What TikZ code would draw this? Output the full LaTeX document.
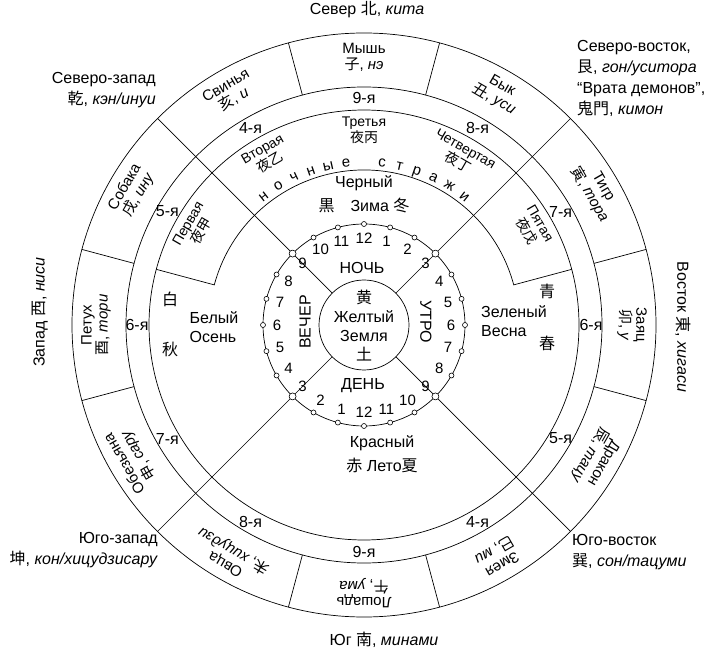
\documentclass[tikz,border=0pt]{standalone}
\usepackage{fontspec}
\setmainfont{Liberation Sans}
\newfontfamily\jpfont{Noto Sans CJK JP}
\newcommand\kj[1]{{\jpfont #1}}
\tikzset{
 ln/.style={line width=0.7pt},
 zod/.style={font=\fontsize{15}{16}\selectfont, align=center, inner sep=0pt},
 num/.style={font=\fontsize{16}{17}\selectfont, inner sep=0pt},
 watch/.style={font=\fontsize{14}{16}\selectfont, align=center, inner sep=0pt},
 cmp/.style={font=\fontsize{16}{21}\selectfont, inner sep=0pt},
 big/.style={font=\fontsize{16}{19}\selectfont, inner sep=0pt},
 hr/.style={font=\fontsize{15}{15}\selectfont, inner sep=0pt},
 dot/.style={circle, draw, fill=white, line width=0.6pt, minimum size=5pt, inner sep=0pt},
 bdot/.style={dot, minimum size=7pt}
}
\begin{document}
\begin{tikzpicture}[x=1pt,y=1pt]
\useasboundingbox (0,0) rectangle (723,654);
\fill[white] (0,0) rectangle (723,654);
\begin{scope}[shift={(364,329)}]
 \coordinate (c) at (0,0);
 \draw[ln] (c) circle (292pt);
 \draw[ln] (c) circle (238pt);
 \draw[ln] (c) circle (215pt);
 \draw[ln] (15:215pt) -- (15:155pt) arc (15:165:155pt) -- (165:215pt);
 \draw[ln] (c) circle (101pt);
 \draw[ln] (c) circle (45pt);
 \foreach \ang in {15,75,105,165,195,255,285,345}
   \draw[ln] (\ang:238pt) -- (\ang:292pt);
 \foreach \ang in {45,135,225,315}
   \draw[ln] (\ang:45pt) -- (\ang:292pt);
 \foreach \ang in {0,15,...,345} \node[dot] (d\ang) at (\ang:101pt) {};
 \foreach \ang in {45,135,225,315} \node[bdot] (b\ang) at (\ang:101pt) {};
 \foreach \ang/\txt in {45/3,60/2,75/1,90/12,105/11,120/10,135/9,30/4,15/5,0/6,-15/7,-30/8,-45/9,-60/10,-75/11,-90/12,-105/1,-120/2,-135/3,150/8,165/7,180/6,195/5,210/4}
   \node[hr] (h\ang) at (\ang:87pt) {\txt};
 \foreach \ang/\nm/\kn/\rom in {90/Мышь/子/нэ,60/Бык/丑/уси,30/Тигр/寅/тора,0/Заяц/卯/у,-30/Дракон/辰/тацу,-60/Змея/巳/ми,-90/Лошадь/午/ума,-120/Овца/未/хицудзи,-150/Обезьяна/申/сару,180/Петух/酉/тори,150/Собака/戌/ину,120/Свинья/亥/и}
   \node[zod, rotate=\ang-90] (z\ang) at (\ang:268pt) {\nm\\\kj{\kn}, \textit{\rom}};
 \foreach \ang/\nm in {90/9,60/8,30/7,0/6,-30/5,-60/4,-90/9,-120/8,-150/7,180/6,150/5,120/4}
   \node[num] (n\ang) at (\ang:227pt) {\nm-я};
 \foreach \ang/\nm/\kn in {150/Первая/夜甲,120/Вторая/夜乙,90/Третья/夜丙,60/Четвертая/夜丁,30/Пятая/夜戊}
   \node[watch, rotate=\ang-90] (w\ang) at (\ang:195pt) {\nm\\\kj{\kn}};
 \foreach \i/\ch in {0/н,1/о,2/ч,3/н,4/ы,5/е,7/с,8/т,9/р,10/а,11/ж,12/и}
   \node[hr, rotate=38-6.33*\i, anchor=base] (l\i) at ({128-6.33*\i}:159pt) {\ch};
 \node[big] (blk) at (0,142) {Черный};
 \node[big] (blk2) at (0,120) {\kj{黒}\quad Зима \kj{冬}};
 \node[big, align=left] (grn) at (150,4) {Зеленый\\Весна};
 \node[big] (grn1) at (183,34) {\kj{青}};
 \node[big] (grn2) at (183,-18) {\kj{春}};
 \node[big, align=left] (wht) at (-150,-2) {Белый\\Осень};
 \node[big] (wht1) at (-194,26) {\kj{白}};
 \node[big] (wht2) at (-194,-24) {\kj{秋}};
 \node[big] (red) at (18,-118) {Красный};
 \node[big] (red2) at (18,-140) {\kj{赤} Лето\kj{夏}};
 \node[big, align=center] (ctr) at (0,-1) {\kj{黄}\\Желтый\\Земля\\\kj{土}};
 \node[big] (nig) at (-2,57) {НОЧЬ};
 \node[big] (day) at (-1,-61) {ДЕНЬ};
 \node[big, rotate=90] (eve) at (-59,3) {ВЕЧЕР};
 \node[big, rotate=-90] (mor) at (62,3) {УТРО};
\end{scope}
\node[cmp] (N) at (367,644) {Север \kj{北}, \textit{кита}};
\node[cmp, align=left, anchor=north west] (NE) at (577,614) {Северо-восток,\\\kj{艮}, \textit{гон/уситора}\\“Врата демонов”,\\\kj{鬼門}, \textit{кимон}};
\node[cmp, align=right, anchor=north east] (NW) at (156,582) {Северо-запад\\\kj{乾}, \textit{кэн/инуи}};
\node[cmp, rotate=90] (W) at (40,342) {Запад \kj{西}, \textit{ниси}};
\node[cmp, rotate=-90] (E) at (683,327) {Восток \kj{東}, \textit{хигаси}};
\node[cmp, align=right, anchor=north east] (SW) at (158,122) {Юго-запад\\\kj{坤}, \textit{кон/хицудзисару}};
\node[cmp, align=left, anchor=north west] (SE) at (572,120) {Юго-восток\\\kj{巽}, \textit{сон/тацуми}};
\node[cmp] (S) at (384,14) {Юг \kj{南}, \textit{минами}};
\end{tikzpicture}
\end{document}
